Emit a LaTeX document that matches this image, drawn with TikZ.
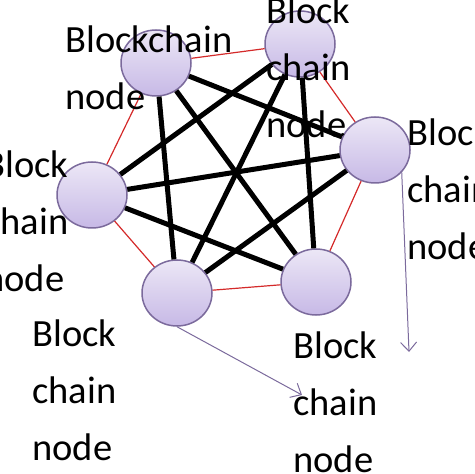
\documentclass[tikz,border=0pt]{standalone}
\usepackage{fontspec}
\setmainfont{Carlito}
\usetikzlibrary{shapes.geometric,arrows.meta}
\definecolor{peerline}{HTML}{7B6A9C}
\definecolor{peertop}{HTML}{ECE7F6}
\definecolor{peerbottom}{HTML}{C7B9E6}
\definecolor{ringred}{HTML}{D42A2A}
\begin{document}
\begin{tikzpicture}[x=0.5pt, y=-0.5pt,
		peer/.style={ellipse, draw=peerline, line width=0.75pt, top color=peertop, bottom color=peerbottom,
			minimum width=35pt, minimum height=33pt, inner sep=0pt},
		link/.style={line width=2.5pt, black},
		ring/.style={line width=0.6pt, ringred},
		pointer/.style={line width=0.5pt, peerline, -{Straight Barb[length=4.5pt,width=8pt]}},
		caption/.style={anchor=base west, align=left, inner sep=0pt,
			font=\fontsize{19.25}{28.5}\selectfont}
		]
	\useasboundingbox (0,0) rectangle (474,474);
	\node [peer] (A) at (156,63) {};
	\node [peer] (B) at (300,44) {};
	\node [peer] (C) at (375,150) {};
	\node [peer] (D) at (92,195) {};
	\node [peer] (E) at (177,293) {};
	\node [peer] (F) at (316,282) {};
	% outer ring
	\draw [ring] (A) -- (B) -- (C) -- (F) -- (E) -- (D) -- (A);
	% mesh links
	\foreach \p/\q in {A/E, A/F, A/C, D/B, D/C, D/F, B/E, B/F, C/E}
		\draw [link] (\p) -- (\q);
	% pointers
	\coordinate (tipE) at (302,395);
	\coordinate (tipC) at (409,352);
	\draw [pointer] (E.south) -- (tipE);
	\draw [pointer] (C.-40) -- (tipC);
	% labels (placed by the baseline of their last line)
	\node [caption] (tA) at (65,110) {Blockchain\\node};
	\node [caption] (tB) at (266,138) {Block\\chain\\node};
	\node [caption] (tC) at (407,260) {Block\\chain\\node};
	\node [caption] (tD) at (-16,292) {Block\\chain\\node};
	\node [caption] (tE) at (32,460) {Block\\chain\\node};
	\node [caption] (tF) at (293,472) {Block\\chain\\node};
\end{tikzpicture}
\end{document}
